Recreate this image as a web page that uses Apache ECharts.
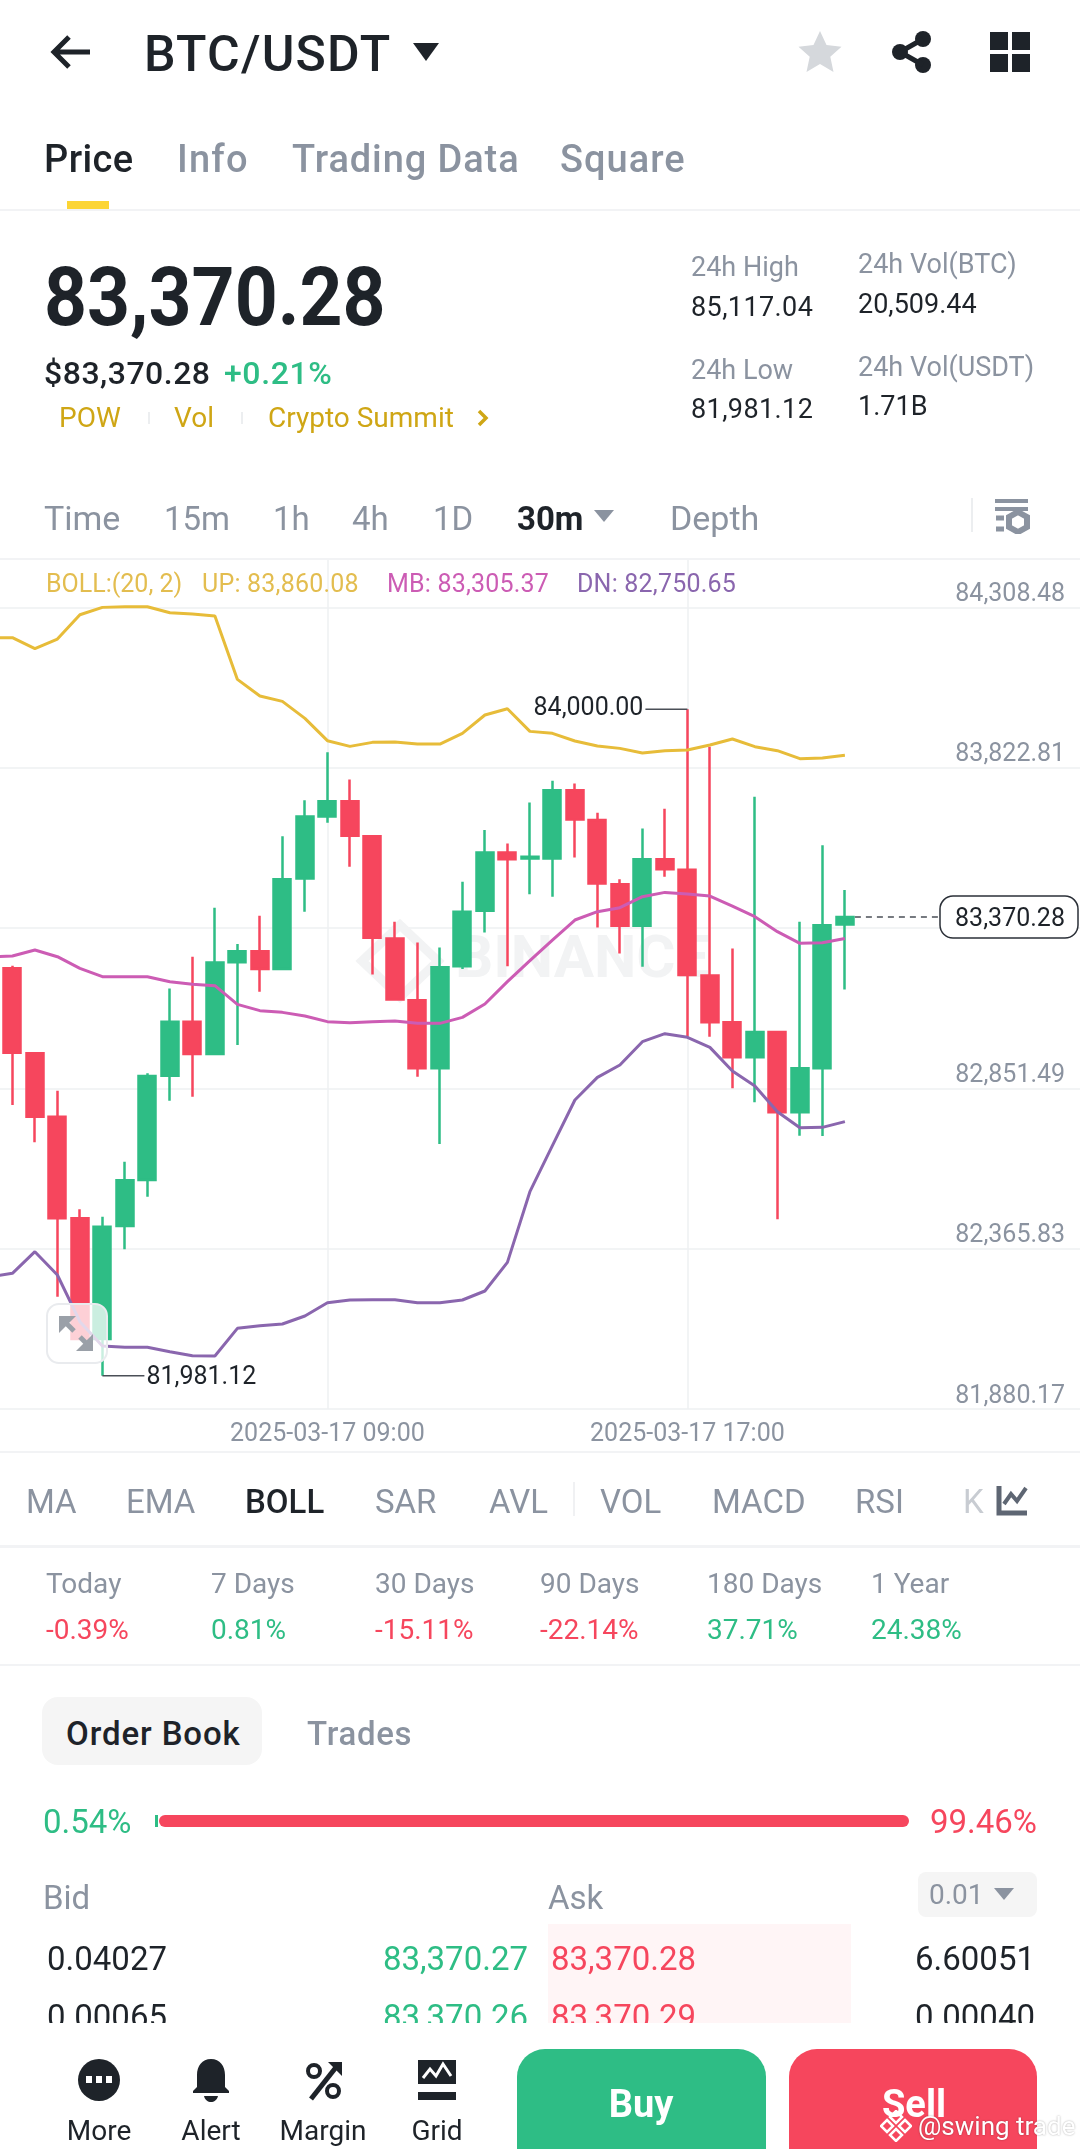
<!DOCTYPE html>
<html>
<head>
<meta charset="utf-8">
<script src="https://cdn.jsdelivr.net/npm/echarts@6/dist/echarts.min.js"></script>
<style>
  html, body { margin: 0; padding: 0; background: #fff; }
  #page { position: relative; width: 1080px; height: 2149px; overflow: hidden; font-family: Roboto, sans-serif; }
  #main { position: absolute; left: 0; top: 0; width: 1080px; height: 2149px; }
  .t { position: absolute; white-space: nowrap; line-height: 1; }
  .box { position: absolute; }
  svg { position: absolute; }
</style>
</head>
<body>
<div id="page"><div id="main"></div></div>
<script>
// 30m candles, first entry only carries the band lines off the left edge
var categories = ['2025-03-17 01:30', '2025-03-17 02:00', '2025-03-17 02:30', '2025-03-17 03:00', '2025-03-17 03:30', '2025-03-17 04:00', '2025-03-17 04:30', '2025-03-17 05:00', '2025-03-17 05:30', '2025-03-17 06:00', '2025-03-17 06:30', '2025-03-17 07:00', '2025-03-17 07:30', '2025-03-17 08:00', '2025-03-17 08:30', '2025-03-17 09:00', '2025-03-17 09:30', '2025-03-17 10:00', '2025-03-17 10:30', '2025-03-17 11:00', '2025-03-17 11:30', '2025-03-17 12:00', '2025-03-17 12:30', '2025-03-17 13:00', '2025-03-17 13:30', '2025-03-17 14:00', '2025-03-17 14:30', '2025-03-17 15:00', '2025-03-17 15:30', '2025-03-17 16:00', '2025-03-17 16:30', '2025-03-17 17:00', '2025-03-17 17:30', '2025-03-17 18:00', '2025-03-17 18:30', '2025-03-17 19:00', '2025-03-17 19:30', '2025-03-17 20:00', '2025-03-17 20:30', '2025-03-17 21:00', '2025-03-17 21:30', '2025-03-17 22:00', '2025-03-17 22:30', '2025-03-17 23:00', '2025-03-17 23:30', '2025-03-18 00:00', '2025-03-18 00:30', '2025-03-18 01:00', '2025-03-18 01:30'];
var timeLabels = ['2025-03-17 09:00', '2025-03-17 17:00'];
var priceTicks = [84308.48, 83822.81, 83337.15, 82851.49, 82365.83, 81880.17];

var opens = [null, 83214.9, 82957.5, 82765.6, 82457.7, 82092, 82434.4, 82573.8, 82889.8, 83053.4, 82955.4, 83233.7, 83267, 83212.6, 83487.2, 83675, 83721.4, 83615.4, 83305.4, 83118.6, 82912, 83221.6, 83389.2, 83566, 83547.8, 83547.8, 83754.7, 83663.9, 83470, 83343.8, 83545.7, 83513.4, 83193.4, 83051.4, 82945.3, 83022, 82778.7, 82912, 83347.8];
var closes = [null, 82959.5, 82765.6, 82457.7, 82092, 82432.4, 82572.8, 82888.8, 83053.4, 82955.4, 83232.7, 83267, 83212.6, 83485.1, 83675, 83721.4, 83616.4, 83307.5, 83120.6, 82912, 83218.6, 83386.2, 83566, 83545.7, 83552.8, 83754.7, 83665.9, 83472, 83343.8, 83545.7, 83515.4, 83194.4, 83051.4, 82945.3, 83022, 82778.7, 82912, 83345.8, 83370.28];
var lows = [null, 82801, 82688, 82220.4, 82090, 81981.12, 82363.8, 82523.3, 82814, 82826.2, 82955.4, 82982.7, 83143.9, 83212.6, 83386, 83655.8, 83522.5, 83196.4, 83120.6, 82886.8, 82682.8, 83212.6, 83323.6, 83221.6, 83439.7, 83431.6, 83550.8, 83338.7, 83260, 83219.6, 83492.3, 83008, 83007.9, 82851.4, 82809, 82454.6, 82708, 82707, 83151];
var highs = [null, 83222.9, 82960, 82844.4, 82485, 82462.7, 82629.3, 82896.9, 83154, 83249.9, 83398.3, 83288.3, 83374, 83615.4, 83724.4, 83869.8, 83787, 83615.4, 83355.9, 83293.3, 83278, 83477.1, 83633.6, 83593.2, 83717.4, 83783, 83775, 83686, 83485, 83638.6, 83698, 84000, 83886, 83275, 83734.8, 83022, 83356, 83588, 83452];

var bollUp = [84216.5, 84216.5, 84183.1, 84212.4, 84286.1, 84308.3, 84310.4, 84310.4, 84292.2, 84288.2, 84282.1, 84090.2, 84039.8, 84023.6, 83972.1, 83904.5, 83887.3, 83899.4, 83900.4, 83894.4, 83894.4, 83926.7, 83982.2, 84001.4, 83932.7, 83926.7, 83903.5, 83888.3, 83881.2, 83867.1, 83874.2, 83876.2, 83891.4, 83909.5, 83886.3, 83874.2, 83850, 83852, 83860.08];
var bollMid = [83250.2, 83252.2, 83270.4, 83250.2, 83214.9, 83189.6, 83189.6, 83189.6, 83174.5, 83166.4, 83162.4, 83105.8, 83086.7, 83081.6, 83070.5, 83053.4, 83050.3, 83053.4, 83055.4, 83048.3, 83048.3, 83066.5, 83106.8, 83174.5, 83238.1, 83300.7, 83361.3, 83386.5, 83398.6, 83432, 83445, 83440, 83434, 83403.7, 83371.4, 83325.9, 83290.6, 83292.6, 83305.37];
var bollDn = [82281, 82291.1, 82356.7, 82286, 82144.7, 82071, 82067, 82067, 82053.8, 82041.7, 82040.7, 82124.5, 82132.5, 82137.6, 82161.8, 82202.2, 82210.3, 82211.3, 82211.3, 82202.2, 82202.2, 82210.3, 82237.6, 82324.4, 82538.4, 82677.8, 82816.1, 82884.8, 82922.1, 82992.8, 83017, 83005.9, 82975.6, 82904, 82858.5, 82780.8, 82732.3, 82733.3, 82750.65];

var lastPrice = 83370.28;
var highMark = 84000;
var lowMark = 81981.12;

var GREEN = '#2ebd85', RED = '#f6465d', GOLD = '#e7bc39', PINK = '#cc5cb4', PURPLE = '#8a66ae';
var DARK = '#1e2329', GREY = '#8b93a0';

function money(v) {
  return v.toLocaleString('en-US', { minimumFractionDigits: 2, maximumFractionDigits: 2 });
}

var candleData = opens.map(function (o, i) {
  return o === null ? '-' : [o, closes[i], lows[i], highs[i]];
});

function isTimeLabel(index) {
  return timeLabels.indexOf(categories[index]) >= 0;
}

var myChart = echarts.init(document.getElementById('main'), null, { renderer: 'canvas' });

var option = {
  animation: false,
  backgroundColor: '#fff',
  textStyle: { fontFamily: 'Roboto' },
  grid: { left: -21.35, width: 1102.5, top: 560, height: 849, outerBoundsMode: 'none' },
  xAxis: {
    type: 'category',
    data: categories,
    boundaryGap: true,
    axisLine: { show: false },
    axisTick: { show: false },
    axisLabel: { interval: function (i) { return isTimeLabel(i); }, color: GREY, fontSize: 25, margin: 13, hideOverlap: false },
    splitLine: { show: true, alignWithLabel: true, interval: function (i) { return isTimeLabel(i); }, lineStyle: { color: '#eef0f2', width: 1.5 } }
  },
  yAxis: {
    type: 'value',
    position: 'right',
    scale: true,
    min: 81880.17,
    max: 84451.8,
    axisLine: { show: false },
    axisTick: { show: false, customValues: priceTicks },
    axisLabel: {
      inside: true,
      customValues: priceTicks,
      margin: 16,
      color: GREY,
      fontSize: 25,
      verticalAlign: 'bottom',
      formatter: function (v) { return money(v); }
    },
    splitLine: { show: true, lineStyle: { color: '#eef0f2', width: 1.5 } }
  },
  series: [
    {
      type: 'candlestick',
      data: candleData,
      barWidth: 17.5,
      itemStyle: { color: GREEN, color0: RED, borderColor: GREEN, borderColor0: RED, borderWidth: 2.5 }
    },
    { type: 'line', data: bollUp, symbol: 'none', lineStyle: { color: GOLD, width: 3 } },
    { type: 'line', data: bollMid, symbol: 'none', lineStyle: { color: PINK, width: 3 } },
    { type: 'line', data: bollDn, symbol: 'none', lineStyle: { color: PURPLE, width: 3 } }
  ]
};
myChart.setOption(option);

// marks that hang off the scales: high, low, last price pill
var lastIdx = categories[opens.length - 1];
var hiPt = myChart.convertToPixel({ seriesIndex: 0 }, [categories[31], highMark]);
var loPt = myChart.convertToPixel({ seriesIndex: 0 }, [categories[5], lowMark]);
var lastPt = myChart.convertToPixel({ seriesIndex: 0 }, [lastIdx, lastPrice]);
var lineDark = { stroke: '#4a4f57', lineWidth: 1.5 };
var arrowGrey = '#9aa0a8';

myChart.setOption({
  graphic: [
    { type: 'text', z: 0, left: 455, top: 932, style: { text: 'BINANCE', fill: '#f2f3f4', font: 'bold 60px Roboto' }, silent: true },
    { type: 'polygon', z: 0, shape: { points: [[400, 925], [438, 961], [400, 997], [362, 961]] }, style: { fill: 'none', stroke: '#f2f3f4', lineWidth: 9 }, silent: true },
    { type: 'line', z: 50, shape: { x1: hiPt[0], y1: hiPt[1], x2: hiPt[0] - 42, y2: hiPt[1] }, style: lineDark },
    { type: 'text', z: 50, x: hiPt[0] - 44, y: hiPt[1], style: { text: money(highMark), fill: DARK, font: '25px Roboto', textAlign: 'right', textVerticalAlign: 'middle' } },
    { type: 'line', z: 50, shape: { x1: loPt[0], y1: loPt[1], x2: loPt[0] + 42, y2: loPt[1] }, style: lineDark },
    { type: 'text', z: 50, x: loPt[0] + 44, y: loPt[1] + 2, style: { text: money(lowMark), fill: DARK, font: '25px Roboto', textAlign: 'left', textVerticalAlign: 'middle' } },
    { type: 'line', z: 50, shape: { x1: lastPt[0] + 10, y1: lastPt[1], x2: 939, y2: lastPt[1] }, style: { stroke: '#4a4f57', lineWidth: 1.5, lineDash: [6, 5] } },
    { type: 'rect', z: 51, shape: { x: 940, y: lastPt[1] - 21, width: 138, height: 42, r: 13 }, style: { fill: '#fff', stroke: '#2b3038', lineWidth: 1.5 } },
    { type: 'text', z: 52, x: 1010, y: lastPt[1] + 3, style: { text: money(lastPrice), fill: DARK, font: '25px Roboto', textAlign: 'center', textVerticalAlign: 'middle' } },
    // expand button
    { type: 'rect', z: 60, shape: { x: 47, y: 1304, width: 60, height: 59, r: 12 }, style: { fill: 'rgba(255,255,255,0.75)', stroke: '#e9ebee', lineWidth: 2 } },
    { type: 'line', z: 61, shape: { x1: 66, y1: 1323, x2: 74, y2: 1331 }, style: { stroke: arrowGrey, lineWidth: 5 } },
    { type: 'line', z: 61, shape: { x1: 80, y1: 1337, x2: 88, y2: 1345 }, style: { stroke: arrowGrey, lineWidth: 5 } },
    { type: 'polygon', z: 61, shape: { points: [[59, 1316], [76, 1316], [59, 1333]] }, style: { fill: arrowGrey } },
    { type: 'polygon', z: 61, shape: { points: [[93, 1351], [76, 1351], [93, 1334]] }, style: { fill: arrowGrey } }
  ]
});

// everything around the chart is plain page text
var page = document.getElementById('page');
function text(str, x, y, size, color, weight, align, spacing) {
  var el = document.createElement('div');
  el.className = 't';
  el.textContent = str;
  el.style.fontSize = size + 'px';
  el.style.color = color;
  el.style.fontWeight = weight || 400;
  el.style.top = y + 'px';
  el.style.left = x + 'px';
  if (spacing) el.style.letterSpacing = spacing + 'px';
  var tx = align === 'right' ? '-100%' : align === 'center' ? '-50%' : '0';
  el.style.transform = 'translate(' + tx + ',-50%)';
  page.appendChild(el);
  return el;
}
function box(x, y, w, h, bg, radius) {
  var el = document.createElement('div');
  el.className = 'box';
  el.style.cssText = 'left:' + x + 'px;top:' + y + 'px;width:' + w + 'px;height:' + h + 'px;background:' + bg + ';border-radius:' + (radius || 0) + 'px';
  page.appendChild(el);
  return el;
}
function svg(x, y, w, h, body) {
  var holder = document.createElement('div');
  holder.innerHTML = '<svg style="left:' + x + 'px;top:' + y + 'px" width="' + w + '" height="' + h + '" viewBox="0 0 ' + w + ' ' + h + '">' + body + '</svg>';
  page.appendChild(holder.firstChild);
}

// header
svg(48, 32, 44, 40, '<path d="M42 20H6M21 5L6 20l15 15" fill="none" stroke="' + DARK + '" stroke-width="5"/>');
text('BTC/USDT', 144, 54, 50, DARK, 500, null, 1.2);
svg(412, 42, 28, 20, '<path d="M1 1h26L14 19z" fill="' + DARK + '"/>');
svg(798, 30, 44, 44, '<path d="M22 1l6.5 14 15 1.700-11.200 10 3.200 15.300L22 34l-13.500 8 3.200-15.300L.5 16.700l15-1.700z" fill="#d5d8dc"/>');
svg(890, 30, 44, 44, '<g fill="' + DARK + '"><circle cx="33" cy="9" r="8"/><circle cx="33" cy="35" r="8"/><circle cx="10" cy="22" r="8"/></g><path d="M33 9L10 22l23 13" fill="none" stroke="' + DARK + '" stroke-width="5"/>');
svg(990, 32, 40, 40, '<path d="M0 0h18v18H0zM22 0h18v18H22zM0 22h18v18H0zM22 22h18v18H22z" fill="' + DARK + '"/>');

text('Price', 44, 159, 38, DARK, 500, null, 0.4);
text('Info', 177, 159, 38, GREY, 500, null, 1.2);
text('Trading Data', 292, 159, 38, GREY, 500, null, 0.9);
text('Square', 560, 159, 38, GREY, 500, null, 1);
box(67, 201, 42, 9, '#fcd535');
box(0, 209, 1080, 2, '#f2f3f5');

var bigPrice = text('83,370.28', 44, 297, 82, DARK, 700);
bigPrice.style.transformOrigin = 'left center';
bigPrice.style.transform = 'translate(0,-50%) scaleX(0.915)';
text('$83,370.28', 44, 373, 32, DARK, 500, null, 0.5);
text('+0.21%', 224, 373, 32, GREEN, 500, null, 0.6);
text('POW', 59, 418, 28, '#cfa615');
box(148, 412, 2, 12, '#eceef0');
text('Vol', 174, 418, 28, '#cfa615');
box(241, 412, 2, 12, '#eceef0');
text('Crypto Summit', 268, 418, 28, '#cfa615');
svg(476, 408, 14, 20, '<path d="M3 3l7 7-7 7" fill="none" stroke="#cfa615" stroke-width="3.500"/>');

text('24h High', 691, 267, 27, GREY);
text('85,117.04', 691, 307, 27, DARK, 400, null, 0.4);
text('24h Low', 691, 370, 27, GREY);
text('81,981.12', 691, 409, 27, DARK, 400, null, 0.4);
text('24h Vol(BTC)', 858, 264, 27, GREY);
text('20,509.44', 858, 304, 27, DARK);
text('24h Vol(USDT)', 858, 367, 27, GREY);
text('1.71B', 858, 406, 27, DARK);

// interval row
text('Time', 44, 518, 34, GREY);
text('15m', 164, 518, 33, GREY);
text('1h', 273, 518, 33, GREY);
text('4h', 352, 518, 33, GREY);
text('1D', 433, 518, 33, GREY);
text('30m', 517, 518, 33, DARK, 700);
svg(593, 509, 22, 14, '<path d="M1 1h20L11 13z" fill="' + GREY + '"/>');
text('Depth', 670, 518, 34, GREY);
box(971, 498, 2, 34, '#eceef0');
svg(994, 498, 36, 36, '<path d="M1 3h33M1 11h33" stroke="#8b93a0" stroke-width="4"/><path d="M2 20h8M2 31h8" stroke="#8b93a0" stroke-width="5"/><path d="M24 14l9 5v10l-9 5-9-5V19z" fill="none" stroke="#8b93a0" stroke-width="6"/>');
box(0, 558, 1080, 2, '#f2f3f5');

// legend of the bands
text('BOLL:(20, 2)', 46, 583, 25, '#e3bd4f');
text('UP: 83,860.08', 202, 583, 25, '#e3bd4f', 400, null, 0.2);
text('MB: 83,305.37', 387, 583, 25, PINK, 400, null, 0.2);
text('DN: 82,750.65', 577, 583, 25, PURPLE, 400, null, 0.2);

box(0, 1451, 1080, 2, '#f2f3f5');

// indicator tabs
var indicators = [['MA', 26], ['EMA', 126], ['SAR', 375], ['AVL', 489], ['VOL', 600], ['MACD', 712], ['RSI', 855]];
indicators.forEach(function (d) { text(d[0], d[1], 1501, 33, GREY); });
text('BOLL', 245, 1501, 33, DARK, 500);
text('K', 963, 1501, 33, '#c8ccd2');
box(573, 1482, 2, 34, '#f0f1f3');
svg(996, 1484, 34, 34, '<path d="M3 2v27h28" fill="none" stroke="#5e6673" stroke-width="5"/><path d="M8 20l7-10 6 7 9-13" fill="none" stroke="#5e6673" stroke-width="4"/>');
box(0, 1545, 1080, 3, '#f2f3f5');

// period performance
var periods = ['Today', '7 Days', '30 Days', '90 Days', '180 Days', '1 Year'];
var periodValues = ['-0.39%', '0.81%', '-15.11%', '-22.14%', '37.71%', '24.38%'];
var periodX = [46, 211, 375, 540, 707, 871];
periods.forEach(function (p, i) {
  text(p, periodX[i], 1584, 28, GREY);
  text(periodValues[i], periodX[i], 1630, 28, periodValues[i].charAt(0) === '-' ? RED : GREEN);
});
box(0, 1664, 1080, 2, '#f2f3f5');

// order book
box(42, 1697, 220, 68, '#f5f5f5', 16);
text('Order Book', 66, 1733, 33, DARK, 500, null, 0.9);
text('Trades', 307, 1733, 33, GREY, 500, null, 0.7);
text('0.54%', 43, 1821, 33, GREEN);
box(155, 1815, 3, 12, GREEN);
box(159, 1815, 750, 12, RED, 6);
text('99.46%', 1037, 1821, 33, RED, 400, 'right');
text('Bid', 43, 1897, 33, GREY);
text('Ask', 548, 1897, 33, GREY);
box(918, 1872, 119, 45, '#f5f5f5', 8);
text('0.01', 929, 1895, 28, GREY);
svg(993, 1887, 22, 14, '<path d="M1 1h20L11 13z" fill="' + GREY + '"/>');

box(548, 1924, 303, 99, '#fff5f6');
text('0.04027', 47, 1958, 33, DARK);
text('83,370.27', 528, 1958, 33, GREEN, 400, 'right');
text('83,370.28', 551, 1958, 33, RED);
text('6.60051', 1035, 1958, 33, DARK, 400, 'right');
text('0.00065', 47, 2016, 33, DARK);
text('83,370.26', 528, 2016, 33, GREEN, 400, 'right');
text('83,370.29', 551, 2016, 33, RED);
text('0.00040', 1035, 2016, 33, DARK, 400, 'right');
box(0, 2023, 1080, 126, '#fff');

// bottom bar
svg(77, 2058, 44, 44, '<circle cx="22" cy="22" r="21" fill="' + DARK + '"/><path d="M9 18h6v7H9zM19 18h6v7h-6zM29 18h6v7h-6z" fill="#fff"/>');
svg(192, 2058, 38, 44, '<path d="M19 1c9 0 14 7 14 16v12l4 4v2H1v-2l4-4V17C5 8 10 1 19 1z" fill="' + DARK + '"/><path d="M12 38h14c-1 4-4 6-7 6s-6-2-7-6z" fill="' + DARK + '"/>');
svg(304, 2060, 40, 42, '<circle cx="10" cy="11" r="6" fill="none" stroke="' + DARK + '" stroke-width="4"/><circle cx="29" cy="31" r="6" fill="none" stroke="' + DARK + '" stroke-width="4"/><path d="M7 39L33 6" stroke="' + DARK + '" stroke-width="5"/><path d="M24 2h14v14z" fill="' + DARK + '"/>');
svg(418, 2060, 38, 40, '<path d="M0 0h38v24H0z" fill="' + DARK + '"/><path d="M5 18l7-9 6 7 7-12 8 12" fill="none" stroke="#fff" stroke-width="3"/><path d="M0 32h38v8H0z" fill="' + DARK + '"/>');
text('More', 99, 2131, 28, DARK, 400, 'center');
text('Alert', 211, 2131, 28, DARK, 400, 'center');
text('Margin', 323, 2131, 28, DARK, 400, 'center');
text('Grid', 437, 2131, 28, DARK, 400, 'center');

box(517, 2049, 249, 130, GREEN, 28);
box(789, 2049, 248, 130, RED, 28);
text('Buy', 641, 2104, 38, '#fff', 700, 'center');
text('Sell', 914, 2104, 38, '#fff', 700, 'center');

// video watermark
svg(880, 2110, 32, 32, '<path d="M16 1l6 6-6 6-6-6zM7 10l6 6-6 6-6-6zM25 10l6 6-6 6-6-6zM16 19l6 6-6 6-6-6z" fill="none" stroke="#fff" stroke-width="2.500"/>');
var mark = text('@swing trade 1', 918, 2126, 26, '#fff');
mark.style.textShadow = '0 0 2px rgba(0,0,0,0.35)';
</script>
</body>
</html>
